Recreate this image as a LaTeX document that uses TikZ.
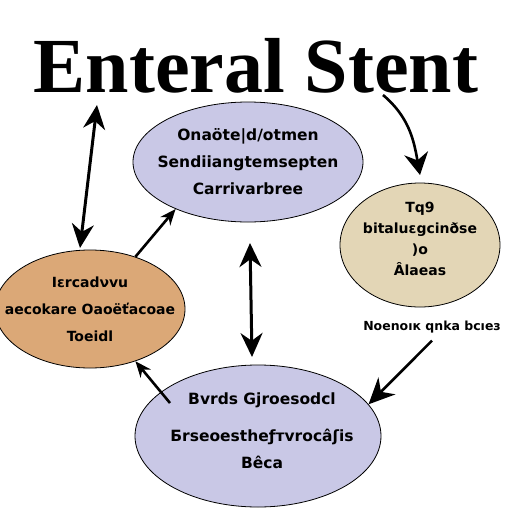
\documentclass[tikz,border=0pt]{standalone}
\usepackage{fontspec}
\setmainfont{DejaVu Sans}
\newfontfamily\titlefont{Liberation Serif}
\usetikzlibrary{positioning, arrows.meta, shapes.geometric}

\definecolor{lavender}{HTML}{C9C8E6}
\definecolor{sand}{HTML}{E3D6B6}
\definecolor{apricot}{HTML}{DBA877}

\tikzset{
    bubble/.style={draw, thick, ellipse, inner sep=0pt},
    bodytext/.style={align=center, font=\bfseries\fontsize{15.5}{27}\selectfont},
    smalltext/.style={align=center, font=\bfseries\fontsize{14}{21}\selectfont},
    bigarrow/.style={line width=3pt, {Stealth[length=24pt, width=22pt]}-{Stealth[length=24pt, width=22pt]}},
    thinarrow/.style={line width=2.6pt, -{Stealth[length=16pt, width=13pt]}},
}

\begin{document}
\begin{tikzpicture}[x=1pt, y=-1pt]
    \useasboundingbox [fill=white] (0, 0) rectangle (512, 512);

    \node (title) at (256, 66) {\titlefont\bfseries\fontsize{78}{78}\selectfont Enteral Stent};

    \node (top) [bubble, fill=lavender, minimum width=230, minimum height=120,
        label={[bodytext]center:{Onaöte|d/otmen\\Sendiiangtemsepten\\Carrivarbree}}] at (248, 162) {};
    \node (rgt) [bubble, fill=sand, minimum width=160, minimum height=124,
        label={[smalltext, yshift=6pt]center:{Tq9\\bitaluεgcinðse\\)o\\Âlaeas}}] at (420, 245) {};
    \node (lft) [bubble, fill=apricot, minimum width=190, minimum height=118,
        label={[smalltext, font=\bfseries\fontsize{14}{27}\selectfont]center:{Iεrcadνvu\\aecokare Oaoёťacoae\\Toeidl}}] at (90, 309) {};
    \node (bot) [bubble, fill=lavender, minimum width=246, minimum height=142,
        label={[bodytext, xshift=4pt, yshift=5pt]center:{Bvrds Gjroesodcl\\[10pt]Бrseoestheƒтvrocâʃis\\Bêca}}] at (258, 436) {};

    \node (note) [font=\bfseries\fontsize{12.5}{13}\selectfont] at (432, 327) {Noenoıк qnka bcıeз};

    \coordinate (ltop) at (97, 105);
    \coordinate (lbot) at (80, 248);
    \coordinate (mtop) at (250, 243);
    \coordinate (mbot) at (252, 357);
    \coordinate (cstart) at (383, 95);
    \coordinate (cend) at (420, 175);
    \coordinate (btail) at (170, 403);

    \draw [bigarrow] (ltop) -- (lbot);
    \draw [bigarrow] (mtop) -- (mbot);
    \draw [thinarrow, -{Stealth[length=22pt, width=24pt]}] (cstart) to[out=-40, in=100] (cend);
    \draw [thinarrow] (lft.49) -- (top.213);
    \draw [thinarrow] (btail) -- (lft.-49);
    \draw [thinarrow, -{Stealth[length=26pt, width=24pt]}] (note.south) ++(0, 4) coordinate (ntail) (ntail) -- (bot.16);
\end{tikzpicture}
\end{document}
